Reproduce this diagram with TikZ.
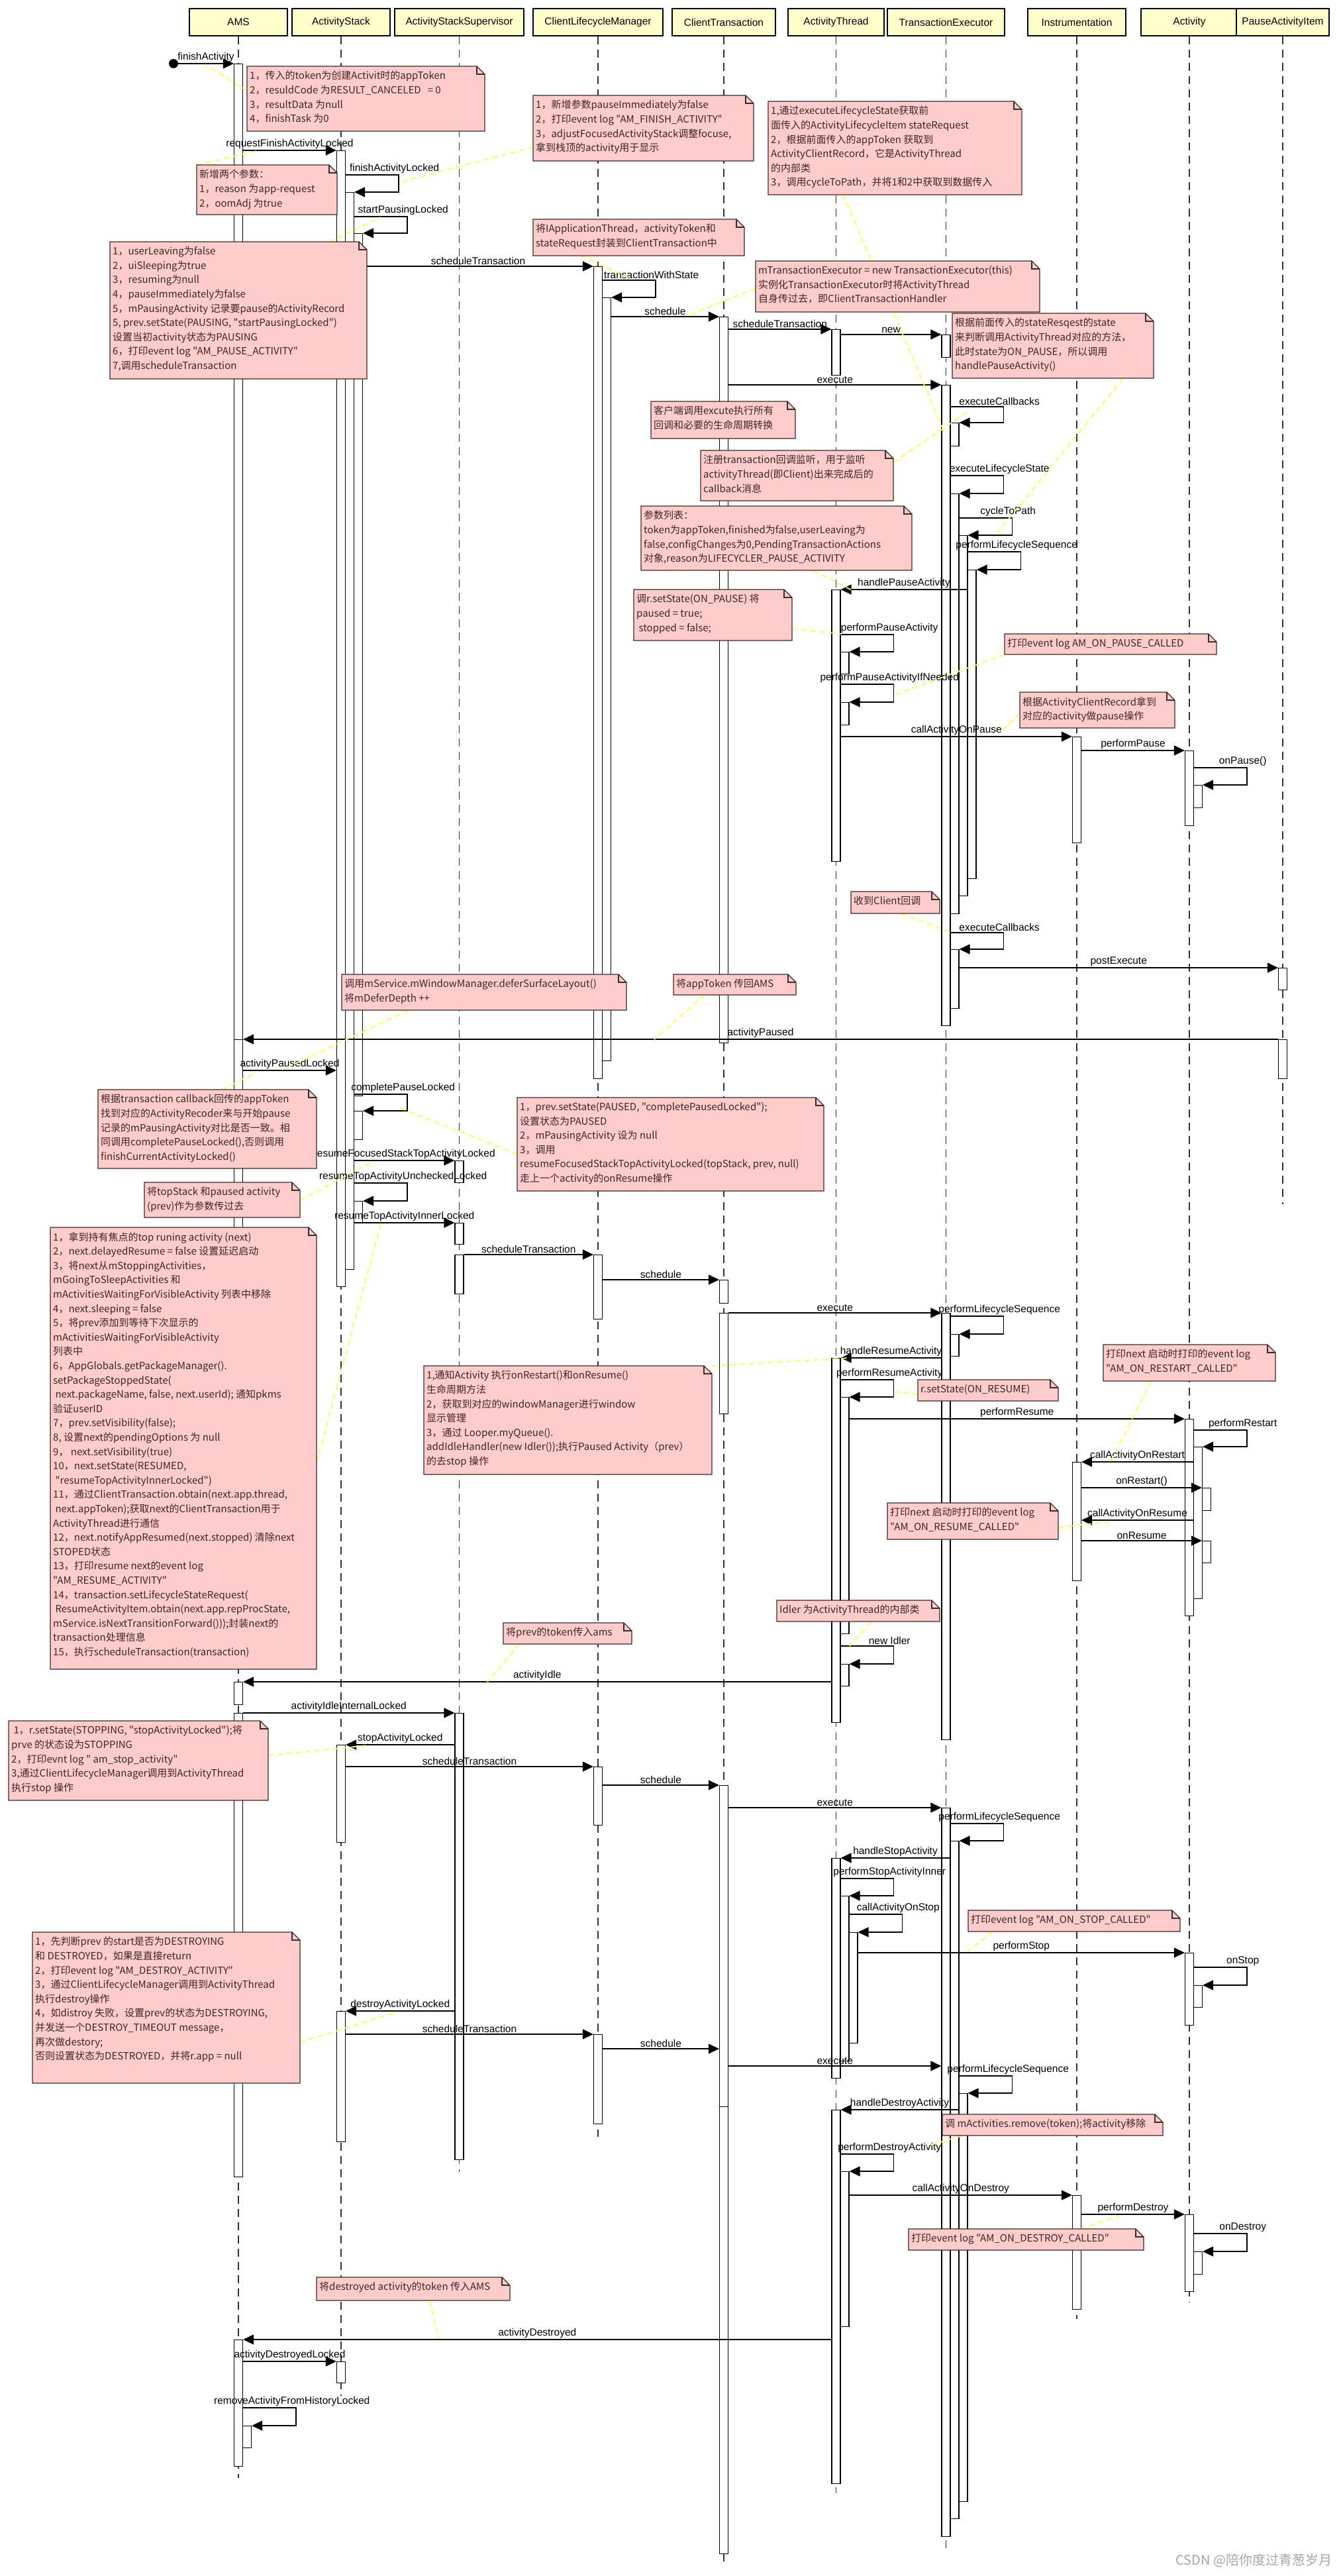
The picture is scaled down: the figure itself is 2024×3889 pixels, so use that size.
\documentclass[tikz,border=0pt]{standalone}
\usepackage{fontspec}
\setmainfont{Liberation Sans}
\newfontfamily\cjk{Noto Sans CJK SC}
\usetikzlibrary{arrows.meta}
\pgfdeclarelayer{hint}
\pgfdeclarelayer{notes}
\pgfsetlayers{main,hint,notes}
\definecolor{headyellow}{HTML}{FFFFCC}
\definecolor{notepink}{HTML}{FFCCCC}
\definecolor{noteedge}{HTML}{3A2A2A}
\definecolor{notetextcol}{HTML}{3C2626}
\definecolor{hintyellow}{HTML}{FFFF55}
\newcommand\lblfont{\fontsize{15.5}{18}\selectfont}
\newcommand\notefont{\cjk\fontsize{15}{21.6}\selectfont}
\newcommand\actbar[5]{\node[actbox, anchor=north, minimum height={(#5-#4)*1pt}, xshift={13pt*#3}] (#1) at (#2 |- 0,#4) {};}
\newcommand\callmsg[4]{\draw[msg] (#1 |- 0,#3) -- node[lbl]{#4} (#2 |- 0,#3);}
\newcommand\selfcall[5]{\draw[msg] (#1.east |- 0,#3) -- node[lbl, pos=0.92]{#5} ++(80,0) |- (#2.east |- 0,#4);}
\newcommand\notebox[6]{%
  \node[notearea, minimum width={(#4-#2)*1pt}, minimum height={(#5-#3)*1pt}] (#1) at (#2,#3) {};
  \filldraw[noteline] (#1.north west) -- ([xshift=-12pt]#1.north east) -- ([yshift=-12pt]#1.north east) -- (#1.south east) -- (#1.south west) -- cycle;
  \draw[noteline, fill=none] ([xshift=-12pt]#1.north east) -- ([shift={(-12pt,-12pt)}]#1.north east) -- ([yshift=-12pt]#1.north east);
  \node[notetext] (#1t) at (#1.north west) {#6};}

\begin{document}
\begin{tikzpicture}[
  x=1pt, y=-1pt,
  head/.style={draw, line width=2.5pt, fill=headyellow, minimum height=41pt, inner sep=0pt, font=\lblfont},
  lifeline/.style={draw=black!80, line width=1.2pt, dash pattern=on 12pt off 8pt},
  actbox/.style={draw, fill=white, line width=1.2pt, minimum width=13pt, inner sep=0pt},
  msg/.style={draw, line width=1.3pt, -{Triangle[length=16pt, width=15pt]}},
  lbl/.style={above, inner sep=1.5pt, font=\lblfont},
  startdot/.style={circle, fill, inner sep=0pt, minimum size=14pt},
  notearea/.style={anchor=north west, inner sep=0pt, outer sep=0pt},
  noteline/.style={draw=noteedge, fill=notepink, line width=1.2pt},
  notetext/.style={anchor=north west, align=left, inner xsep=4pt, inner ysep=7pt, font=\notefont, text=notetextcol},
  hint/.style={draw=hintyellow, line width=1.8pt, dash pattern=on 8pt off 6pt}
]
\fill[white] (0,0) rectangle (2024,3889);
\useasboundingbox (0,0) rectangle (2024,3889);

\node[head, minimum width=148pt] (hAMS) at (360,33.5) {AMS};
\node[head, minimum width=148pt] (hAS) at (515,33.5) {ActivityStack};
\node[head, minimum width=195pt] (hASS) at (693.5,33.5) {ActivityStackSupervisor};
\node[head, minimum width=196pt] (hCLM) at (903,33.5) {ClientLifecycleManager};
\node[head, minimum width=156pt] (hCT) at (1093,33.5) {ClientTransaction};
\node[head, minimum width=145pt] (hAT) at (1262.5,33.5) {ActivityThread};
\node[head, minimum width=177pt] (hTE) at (1428.5,33.5) {TransactionExecutor};
\node[head, minimum width=148pt] (hIns) at (1626,33.5) {Instrumentation};
\node[head, minimum width=146pt] (hAct) at (1796,33.5) {Activity};
\node[head, minimum width=140pt] (hPAI) at (1937,33.5) {PauseActivityItem};

\draw[lifeline] (hAMS.south) -- (hAMS.south |- 0,3741);
\draw[lifeline] (hAS.south) -- (hAS.south |- 0,3617);
\draw[lifeline] (hASS.south) -- (hASS.south |- 0,3279);
\draw[lifeline] (hCLM.south) -- (hCLM.south |- 0,3226);
\draw[lifeline] (hCT.south) -- (hCT.south |- 0,3873);
\draw[lifeline] (hAT.south) -- (hAT.south |- 0,3764);
\draw[lifeline] (hTE.south) -- (hTE.south |- 0,3847);
\draw[lifeline] (hIns.south) -- (hIns.south |- 0,3501);
\draw[lifeline] (hAct.south) -- (hAct.south |- 0,3476);
\draw[lifeline] (hPAI.south) -- (hPAI.south |- 0,1818);

\actbar{amsA}{hAMS}{0}{96}{1569}
\actbar{amsB}{hAMS}{0}{1569}{1960}
\actbar{amsC}{hAMS}{0}{2539}{2573}
\actbar{amsD}{hAMS}{0}{2586}{3286}
\actbar{amsE}{hAMS}{0}{3532}{3723}
\actbar{amsF}{hAMS}{1}{3662}{3695}
\actbar{asA}{hAS}{0}{227}{1942}
\actbar{asB}{hAS}{1}{290}{1916}
\actbar{asC}{hAS}{2}{352}{1654}
\actbar{asD}{hAS}{2}{1677}{1720}
\actbar{asE}{hAS}{2}{1813}{1846}
\actbar{asF}{hAS}{0}{2634}{2781}
\actbar{asG}{hAS}{0}{3036}{3233}
\actbar{asH}{hAS}{0}{3565}{3597}
\actbar{assA}{hASS}{0}{1752}{1785}
\actbar{assB}{hASS}{0}{1846}{1878}
\actbar{assC}{hASS}{0}{1894}{1953}
\actbar{assD}{hASS}{0}{2586}{3260}
\actbar{clmA}{hCLM}{0}{402}{1628}
\actbar{clmB}{hCLM}{1}{449}{1601}
\actbar{clmC}{hCLM}{0}{1894}{1991}
\actbar{clmD}{hCLM}{0}{2667}{2755}
\actbar{clmE}{hCLM}{0}{3071}{3206}
\actbar{ctA}{hCT}{0}{478}{1574}
\actbar{ctB}{hCT}{0}{1932}{1967}
\actbar{ctC}{hCT}{0}{1982}{2134}
\actbar{ctD}{hCT}{0}{2695}{3180}
\actbar{ctE}{hCT}{0}{3180}{3855}
\actbar{atA}{hAT}{0}{497}{566}
\actbar{atB}{hAT}{0}{890}{1300}
\actbar{atB1}{hAT}{1}{984}{1017}
\actbar{atB2}{hAT}{1}{1060}{1094}
\actbar{atC}{hAT}{0}{2050}{2600}
\actbar{atC1}{hAT}{1}{2109}{2466}
\actbar{atC2}{hAT}{1}{2512}{2545}
\actbar{atD}{hAT}{0}{2805}{3137}
\actbar{atD1}{hAT}{1}{2862}{3111}
\actbar{atD2}{hAT}{2}{2917}{3084}
\actbar{atE}{hAT}{0}{3185}{3749}
\actbar{atE1}{hAT}{1}{3278}{3512}
\actbar{teA}{hTE}{0}{505}{539}
\actbar{teB}{hTE}{0}{581}{1548}
\actbar{teB1}{hTE}{1}{638}{673}
\actbar{teB2}{hTE}{1}{745}{1379}
\actbar{teB3}{hTE}{2}{808}{1352}
\actbar{teB4}{hTE}{3}{860}{1326}
\actbar{teB5}{hTE}{1}{1433}{1522}
\actbar{teC}{hTE}{0}{1982}{2626}
\actbar{teC1}{hTE}{1}{2014}{2047}
\actbar{teD}{hTE}{0}{2729}{3829}
\actbar{teD1}{hTE}{1}{2779}{3802}
\actbar{teD2}{hTE}{2}{3160}{3776}
\actbar{insA}{hIns}{0}{1112}{1272}
\actbar{insB}{hIns}{0}{2207}{2386}
\actbar{insC}{hIns}{0}{3314}{3486}
\actbar{actA}{hAct}{0}{1133}{1246}
\actbar{actA1}{hAct}{1}{1185}{1219}
\actbar{actB}{hAct}{0}{2142}{2439}
\actbar{actB1}{hAct}{1}{2184}{2413}
\actbar{actB2}{hAct}{2}{2246}{2280}
\actbar{actB3}{hAct}{2}{2326}{2359}
\actbar{actC}{hAct}{0}{2948}{3057}
\actbar{actC1}{hAct}{1}{2997}{3030}
\actbar{actD}{hAct}{0}{3343}{3459}
\actbar{actD1}{hAct}{1}{3399}{3433}
\actbar{paiA}{hPAI}{0}{1461}{1494}
\actbar{paiB}{hPAI}{0}{1569}{1628}

\node[startdot] (found) at (262,96) {};
\draw[msg] (found) -- node[lbl]{finishActivity} (amsA.west |- found);
\callmsg{amsA.east}{asA.west}{227}{requestFinishActivityLocked}
\selfcall{asA}{asB}{264}{290}{finishActivityLocked}
\selfcall{asB}{asC}{327}{352}{startPausingLocked}
\callmsg{asC.east}{clmA.west}{402}{scheduleTransaction}
\selfcall{clmA}{clmB}{423}{449}{transactionWithState}
\callmsg{clmB.east}{ctA.west}{478}{schedule}
\callmsg{ctA.east}{atA.west}{497}{scheduleTransaction}
\callmsg{atA.east}{teA.west}{505}{new}
\callmsg{ctA.east}{teB.west}{581}{execute}
\selfcall{teB}{teB1}{614}{638}{executeCallbacks}
\selfcall{teB}{teB2}{718}{745}{executeLifecycleState}
\selfcall{teB2}{teB3}{782}{808}{cycleToPath}
\selfcall{teB3}{teB4}{833}{860}{performLifecycleSequence}
\callmsg{teB4.west}{atB.east}{890}{handlePauseActivity}
\selfcall{atB}{atB1}{958}{984}{performPauseActivity}
\selfcall{atB}{atB2}{1033}{1060}{performPauseActivityIfNeeded}
\callmsg{atB.east}{insA.west}{1112}{callActivityOnPause}
\callmsg{insA.east}{actA.west}{1133}{performPause}
\selfcall{actA}{actA1}{1159}{1185}{onPause()}
\selfcall{teB}{teB5}{1408}{1433}{executeCallbacks}
\callmsg{teB5.east}{paiA.west}{1461}{postExecute}
\callmsg{paiB.west}{amsB.east}{1569}{activityPaused}
\callmsg{amsB.east}{asA.west}{1616}{activityPausedLocked}
\selfcall{asB}{asD}{1652}{1677}{completePauseLocked}
\callmsg{asB.east}{assA.west}{1752}{resumeFocusedStackTopActivityLocked}
\selfcall{asB}{asE}{1786}{1813}{resumeTopActivityUncheckedLocked}
\callmsg{asB.east}{assB.west}{1846}{resumeTopActivityInnerLocked}
\callmsg{assC.east}{clmC.west}{1894}{scheduleTransaction}
\callmsg{clmC.east}{ctB.west}{1932}{schedule}
\callmsg{ctC.east}{teC.west}{1982}{execute}
\selfcall{teC}{teC1}{1987}{2014}{performLifecycleSequence}
\callmsg{teC.west}{atC.east}{2050}{handleResumeActivity}
\selfcall{atC}{atC1}{2083}{2109}{performResumeActivity}
\callmsg{atC1.east}{actB.west}{2142}{performResume}
\selfcall{actB}{actB1}{2159}{2184}{performRestart}
\callmsg{actB1.west}{insB.east}{2207}{callActivityOnRestart}
\callmsg{insB.east}{actB2.west}{2246}{onRestart()}
\callmsg{actB1.west}{insB.east}{2295}{callActivityOnResume}
\callmsg{insB.east}{actB3.west}{2326}{onResume}
\selfcall{atC}{atC2}{2485}{2512}{new Idler}
\callmsg{atC.west}{amsC.east}{2539}{activityIdle}
\callmsg{amsD.east}{assD.west}{2586}{activityIdleInternalLocked}
\callmsg{assD.west}{asF.east}{2634}{stopActivityLocked}
\callmsg{asF.east}{clmD.west}{2667}{scheduleTransaction}
\callmsg{clmD.east}{ctD.west}{2695}{schedule}
\callmsg{ctD.east}{teD.west}{2729}{execute}
\selfcall{teD}{teD1}{2753}{2779}{performLifecycleSequence}
\callmsg{teD1.west}{atD.east}{2805}{handleStopActivity}
\selfcall{atD}{atD1}{2836}{2862}{performStopActivityInner}
\selfcall{atD1}{atD2}{2890}{2917}{callActivityOnStop}
\callmsg{atD2.east}{actC.west}{2948}{performStop}
\selfcall{actC}{actC1}{2970}{2997}{onStop}
\callmsg{assD.west}{asG.east}{3036}{destroyActivityLocked}
\callmsg{asG.east}{clmE.west}{3071}{scheduleTransaction}
\callmsg{clmE.east}{ctD.west}{3093}{schedule}
\callmsg{ctD.east}{teD.west}{3119}{execute}
\selfcall{teD1}{teD2}{3134}{3160}{performLifecycleSequence}
\callmsg{teD2.west}{atE.east}{3185}{handleDestroyActivity}
\selfcall{atE}{atE1}{3252}{3278}{performDestroyActivity}
\callmsg{atE1.east}{insC.west}{3314}{callActivityOnDestroy}
\callmsg{insC.east}{actD.west}{3343}{performDestroy}
\selfcall{actD}{actD1}{3372}{3399}{onDestroy}
\callmsg{atE.west}{amsE.east}{3532}{activityDestroyed}
\callmsg{amsE.east}{asH.west}{3565}{activityDestroyedLocked}
\selfcall{amsE}{amsF}{3635}{3662}{removeActivityFromHistoryLocked}

\begin{pgfonlayer}{notes}
\notebox{n1}{373}{100}{732}{198}{1，传入的token为创建Activit时的appToken\\2，resuldCode 为RESULT\_CANCELED\ \ \ = 0\\3，resultData 为null\\4，finishTask 为0}
\notebox{n2}{297}{249}{509}{324}{新增两个参数：\\1，reason 为app-request\\2，oomAdj 为true}
\notebox{n3}{805}{144}{1138}{243}{1，新增参数pauseImmediately为false\\2，打印event log "AM\_FINISH\_ACTIVITY"\\3，adjustFocusedActivityStack调整focuse,\\拿到栈顶的activity用于显示}
\notebox{n4}{805}{331}{1124}{386}{将IApplicationThread，activityToken和\\stateRequest封装到ClientTransaction中}
\notebox{n5}{166}{365}{554}{572}{1，userLeaving为false\\2，uiSleeping为true\\3，resuming为null\\4，pauseImmediately为false\\5，mPausingActivity 记录要pause的ActivityRecord\\5, prev.setState(PAUSING, "startPausingLocked")\\设置当初activity状态为PAUSING\\6，打印event log "AM\_PAUSE\_ACTIVITY"\\7,调用scheduleTransaction}
\notebox{n6}{1160}{153}{1543}{294}{1,通过executeLifecycleState获取前\\面传入的ActivityLifecycleItem stateRequest\\2，根据前面传入的appToken 获取到\\ActivityClientRecord，它是ActivityThread\\的内部类\\3，调用cycleToPath，并将1和2中获取到数据传入}
\notebox{n7}{1141}{394}{1570}{471}{mTransactionExecutor = new TransactionExecutor(this)\\实例化TransactionExecutor时将ActivityThread\\自身传过去，即ClientTransactionHandler}
\notebox{n8}{1438}{473}{1742}{571}{根据前面传入的stateResqest的state\\来判断调用ActivityThread对应的方法，\\此时state为ON\_PAUSE，所以调用\\handlePauseActivity()}
\notebox{n9}{983}{606}{1201}{662}{客户端调用excute执行所有\\回调和必要的生命周期转换}
\notebox{n10}{1058}{680}{1349}{756}{注册transaction回调监听，用于监听\\activityThread(即Client)出来完成后的\\callback消息}
\notebox{n11}{968}{764}{1377}{861}{参数列表：\\token为appToken,finished为false,userLeaving为\\false,configChanges为0,PendingTransactionActions\\对象,reason为LIFECYCLER\_PAUSE\_ACTIVITY}
\notebox{n12}{957}{890}{1196}{967}{调r.setState(ON\_PAUSE) 将\\paused = true;\\\ stopped = false;}
\notebox{n13}{1517}{957}{1837}{988}{打印event log AM\_ON\_PAUSE\_CALLED}
\notebox{n14}{1540}{1045}{1774}{1099}{根据ActivityClientRecord拿到\\对应的activity做pause操作}
\notebox{n15}{1285}{1346}{1419}{1379}{收到Client回调}
\notebox{n16}{1017}{1471}{1202}{1502}{将appToken 传回AMS}
\notebox{n17}{516}{1471}{946}{1525}{调用mService.mWindowManager.deferSurfaceLayout()\\将mDeferDepth ++}
\notebox{n18}{148}{1645}{478}{1764}{根据transaction callback回传的appToken\\找到对应的ActivityRecoder来与开始pause\\记录的mPausingActivity对比是否一致。相\\同调用completePauseLocked(),否则调用\\finishCurrentActivityLocked()}
\notebox{n19}{781}{1657}{1244}{1798}{1，prev.setState(PAUSED, "completePausedLocked");\\设置状态为PAUSED\\2，mPausingActivity 设为 null\\3，调用\\resumeFocusedStackTopActivityLocked(topStack, prev, null)\\走上一个activity的onResume操作}
\notebox{n20}{218}{1785}{453}{1838}{将topStack 和paused activity\\(prev)作为参数传过去}
\notebox{n21}{76}{1853}{478}{2520}{1，拿到持有焦点的top runing activity (next)\\2，next.delayedResume = false 设置延迟启动\\3，将next从mStoppingActivities，\\mGoingToSleepActivities 和\\mActivitiesWaitingForVisibleActivity 列表中移除\\4，next.sleeping = false\\5，将prev添加到等待下次显示的\\mActivitiesWaitingForVisibleActivity\\列表中\\6，AppGlobals.getPackageManager().\\setPackageStoppedState(\\\ next.packageName, false, next.userId); 通知pkms\\验证userID\\7，prev.setVisibility(false);\\8, 设置next的pendingOptions 为 null\\9，\ next.setVisibility(true)\\10，next.setState(RESUMED,\\\ "resumeTopActivityInnerLocked")\\11，通过ClientTransaction.obtain(next.app.thread,\\\ next.appToken);获取next的ClientTransaction用于\\ActivityThread进行通信\\12，next.notifyAppResumed(next.stopped) 清除next\\STOPED状态\\13，打印resume next的event log\\"AM\_RESUME\_ACTIVITY"\\14，transaction.setLifecycleStateRequest(\\\ ResumeActivityItem.obtain(next.app.repProcState,\\mService.isNextTransitionForward()));封装next的\\transaction处理信息\\15，执行scheduleTransaction(transaction)}
\notebox{n22}{640}{2062}{1075}{2226}{1,通知Activity 执行onRestart()和onResume()\\生命周期方法\\2，获取到对应的windowManager进行window\\显示管理\\3，通过 Looper.myQueue().\\addIdleHandler(new Idler());执行Paused Activity（prev）\\的去stop 操作}
\notebox{n23}{760}{2450}{954}{2482}{将prev的token传入ams}
\notebox{n24}{1386}{2083}{1598}{2115}{r.setState(ON\_RESUME)}
\notebox{n25}{1666}{2030}{1926}{2085}{打印next 启动时打印的event log\\"AM\_ON\_RESTART\_CALLED"}
\notebox{n26}{1340}{2269}{1598}{2324}{打印next 启动时打印的event log\\"AM\_ON\_RESUME\_CALLED"}
\notebox{n27}{1173}{2416}{1419}{2448}{Idler 为ActivityThread的内部类}
\notebox{n28}{13}{2598}{405}{2718}{\ 1，r.setState(STOPPING, "stopActivityLocked");将\\prve 的状态设为STOPPING\\2，打印evnt log " am\_stop\_activity"\\3,通过ClientLifecycleManager调用到ActivityThread\\执行stop 操作}
\notebox{n29}{49}{2917}{453}{3145}{1，先判断prev 的start是否为DESTROYING\\和 DESTROYED，如果是直接return\\2，打印event log "AM\_DESTROY\_ACTIVITY"\\3，通过ClientLifecycleManager调用到ActivityThread\\执行destroy操作\\4，如distroy 失败，设置prev的状态为DESTROYING,\\并发送一个DESTROY\_TIMEOUT message，\\再次做destory;\\否则设置状态为DESTROYED，并将r.app = null}
\notebox{n30}{1462}{2884}{1782}{2916}{打印event log "AM\_ON\_STOP\_CALLED"}
\notebox{n31}{1423}{3192}{1756}{3224}{调 mActivities.remove(token);将activity移除}
\notebox{n32}{1372}{3365}{1727}{3397}{打印event log "AM\_ON\_DESTROY\_CALLED"}
\notebox{n33}{478}{3438}{770}{3473}{将destroyed activity的token 传入AMS}
\end{pgfonlayer}

\begin{pgfonlayer}{hint}
\draw[hint] (n1.west |- 0,137) -- (310,97);
\draw[hint] (n2.north west) -- (387,228);
\draw[hint] (n3.west |- 0,222) -- (607,274);
\draw[hint] (n4.south -| 878,0) -- (949,419);
\draw[hint] (n5.north -| 497,0) -- (575,328);
\draw[hint] (n6.south -| 1273,0) -- (1425,650);
\draw[hint] (n7.west |- 0,435) -- (1038,477);
\draw[hint] (n8.south -| 1696,0) -- (1503,808);
\draw[hint] (n10.east |- 0,698) -- (1464,620);
\draw[hint] (n11.south -| 1228,0) -- (1290,893);
\draw[hint] (n12.east |- 0,949) -- (1270,957);
\draw[hint] (n13.south west) -- (1351,1049);
\draw[hint] (n14.west |- 0,1077) -- (1509,1106);
\draw[hint] (n15.south -| 1361,0) -- (1435,1407);
\draw[hint] (n16.south -| 1064,0) -- (988,1569);
\draw[hint] (n17.south -| 617,0) -- (426,1615);
\draw[hint] (n18.north -| 336,0) -- (387,1619);
\draw[hint] (n19.west |- 0,1742) -- (604,1673);
\draw[hint] (n20.east |- 0,1812) -- (562,1754);
\draw[hint] (n21.east |- 0,2207) -- (575,1847);
\draw[hint] (n22.north east) -- (1283,2050);
\draw[hint] (n23.south -| 784,0) -- (736,2539);
\draw[hint] (n24.west |- 0,2105) -- (1351,2101);
\draw[hint] (n25.south -| 1738,0) -- (1677,2207);
\draw[hint] (n26.east |- 0,2306) -- (1677,2297);
\draw[hint] (n27.south -| 1315,0) -- (1283,2485);
\draw[hint] (n28.east |- 0,2650) -- (555,2635);
\draw[hint] (n29.east |- 0,3083) -- (600,3037);
\draw[hint] (n30.south -| 1499,0) -- (1461,2946);
\draw[hint] (n31.south -| 1454,0) -- (1399,3240);
\draw[hint] (n32.north -| 1632,0) -- (1690,3345);
\draw[hint] (n33.south -| 649,0) -- (662,3531);
\end{pgfonlayer}

\node[anchor=east, text=black!35, font=\cjk\fontsize{20}{20}\selectfont] (mark) at (2015,3866) {CSDN @陪你度过青葱岁月};
\end{tikzpicture}
\end{document}
